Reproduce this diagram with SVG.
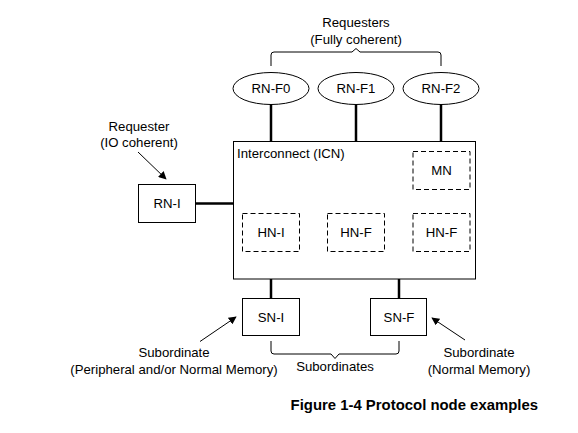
<svg xmlns="http://www.w3.org/2000/svg" width="578" height="433" viewBox="0 0 578 433">
<style>
text{font-family:"Liberation Sans",Arial,sans-serif;font-size:13.2px;fill:#000}
.c{text-anchor:middle}
.box{fill:#fff;stroke:#000;stroke-width:1}
.dash{fill:#fff;stroke:#000;stroke-width:1;stroke-dasharray:5,3}
.thick{fill:none;stroke:#000;stroke-width:2.5}
.thin{fill:none;stroke:#000;stroke-width:1}
.title{font-weight:bold;font-size:14.9px}
</style>
<defs>
<marker id="ah" viewBox="0 0 10 10" refX="9" refY="5" markerWidth="8" markerHeight="8" orient="auto" markerUnits="userSpaceOnUse">
<path d="M0,0 L10,5 L0,10 z" fill="#000"/>
</marker>
</defs>
<rect width="578" height="433" fill="#fff"/>
<g id="connectors">
<line class="thick" x1="271" y1="104" x2="271" y2="142"/>
<line class="thick" x1="356" y1="104" x2="356" y2="142"/>
<line class="thick" x1="441" y1="104" x2="441" y2="142"/>
<line class="thick" x1="196" y1="203.5" x2="233" y2="203.5"/>
<line class="thick" x1="271" y1="252" x2="271" y2="298"/>
<polyline class="thick" points="356,252 356,265 441.5,265 441.5,252"/>
<line class="thick" x1="399" y1="265" x2="399" y2="298"/>
<circle cx="399" cy="265" r="4" fill="#000"/>
<line class="thin" x1="138" y1="152" x2="166" y2="179" marker-end="url(#ah)"/>
<line class="thin" x1="200" y1="341.5" x2="236" y2="317" marker-end="url(#ah)"/>
<line class="thin" x1="465" y1="340" x2="432" y2="318" marker-end="url(#ah)"/>
</g>
<g id="brace-top">
<path class="thin" d="M271,66 V55 Q271,52 274,52 H352 L356,48.5 L360,52 H438 Q441,52 441,55 V66"/>
<text class="c" x="356" y="27">Requesters</text>
<text class="c" x="356" y="44">(Fully coherent)</text>
</g>
<g id="ICN">
<rect class="box" x="233.5" y="141.5" width="242" height="137.5"/>
<text x="237" y="158">Interconnect (ICN)</text>
</g>
<g id="RN-F0"><ellipse class="box" cx="271" cy="88.5" rx="38" ry="16"/><text class="c" x="271" y="93">RN-F0</text></g>
<g id="RN-F1"><ellipse class="box" cx="356" cy="88.5" rx="38" ry="16"/><text class="c" x="356" y="93">RN-F1</text></g>
<g id="RN-F2"><ellipse class="box" cx="441" cy="88.5" rx="38" ry="16"/><text class="c" x="441" y="93">RN-F2</text></g>
<g id="RN-I">
<rect class="box" x="138.5" y="184.5" width="57" height="38"/>
<text class="c" x="167" y="208">RN-I</text>
<text class="c" x="139" y="131">Requester</text>
<text class="c" x="139" y="147">(IO coherent)</text>
</g>
<g id="MN"><rect class="dash" x="413" y="151.5" width="57" height="38"/><text class="c" x="441.5" y="175">MN</text></g>
<g id="HN-I"><rect class="dash" x="242.5" y="213.5" width="57" height="38"/><text class="c" x="271" y="237">HN-I</text></g>
<g id="HN-F1"><rect class="dash" x="327.5" y="213.5" width="57" height="38"/><text class="c" x="356" y="237">HN-F</text></g>
<g id="HN-F2"><rect class="dash" x="413" y="213.5" width="57" height="38"/><text class="c" x="441.5" y="237">HN-F</text></g>
<g id="SN-I">
<rect class="box" x="242.5" y="298.5" width="57" height="37"/>
<text class="c" x="271" y="322">SN-I</text>
<text class="c" x="174" y="357">Subordinate</text>
<text class="c" x="174" y="373.5">(Peripheral and/or Normal Memory)</text>
</g>
<g id="SN-F">
<rect class="box" x="370.5" y="298.5" width="56" height="37"/>
<text class="c" x="399" y="322">SN-F</text>
<text class="c" x="479" y="357">Subordinate</text>
<text class="c" x="479" y="373.5">(Normal Memory)</text>
</g>
<g id="brace-bottom">
<path class="thin" d="M271,341 V351 Q271,354 274,354 H331 L335,358.5 L339,354 H396 Q399,354 399,351 V341"/>
<text class="c" x="335" y="371">Subordinates</text>
</g>
<text class="title" x="538" y="410" text-anchor="end">Figure 1-4 Protocol node examples</text>
</svg>
